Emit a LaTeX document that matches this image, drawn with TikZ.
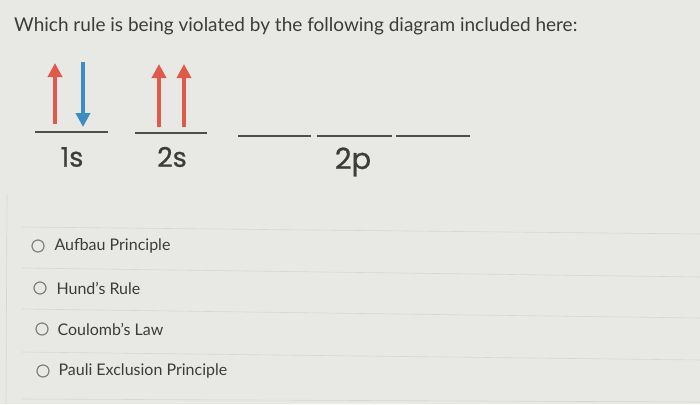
\documentclass[tikz,border=0pt]{standalone}
\usepackage{fontspec}
\setmainfont{Lato}
\newfontfamily\orbfont{Poppins}[FakeBold=0.8]
\usetikzlibrary{arrows.meta}
\definecolor{paper}{HTML}{E8E8E5}
\definecolor{rulegray}{HTML}{D6D6D2}
\definecolor{inkgray}{HTML}{3C3C3C}
\definecolor{levelgray}{HTML}{4E4E4E}
\definecolor{spinred}{HTML}{E05A4B}
\definecolor{spinblue}{HTML}{3D8CC2}
\tikzset{
  level/.style={levelgray, line width=2pt},
  spin/.style={line width=4pt, -{Triangle[width=14pt,length=14pt]}},
  orblabel/.style={inkgray, font=\orbfont\fontsize{27}{29}\selectfont},
  radio/.style={draw=gray, line width=1.2pt},
  choice/.style={inkgray, anchor=west, font=\fontsize{16}{18}\selectfont},
  divider/.style={rulegray, line width=0.6pt}
}
\begin{document}
\begin{tikzpicture}[x=1pt,y=-1pt]
        % page
        \fill[paper] (0,0) rectangle (700,404);
        \useasboundingbox (0,0) rectangle (700,404);
        \draw[divider] (7,195) -- (6,404);

        % question
        \node[inkgray, anchor=base west, inner sep=0pt, font=\fontsize{19}{22}\selectfont]
          (question) at (14,31) {Which rule is being violated by the following diagram included here:};

        % orbital levels
        \draw[level] (35,132) -- (108,132);
        \draw[level] (135,133) -- (207,133);
        \draw[level] (238,136) -- (311,136);
        \draw[level] (317,136) -- (392,136);
        \draw[level] (396,136) -- (470,136);

        % electrons
        \draw[spin, spinred] (55,124) -- (55,63);
        \draw[spin, spinblue] (83,62) -- (83,127);
        \draw[spin, spinred] (159,127) -- (159,64);
        \draw[spin, spinred] (184,127) -- (184,64);

        % labels
        \node[orblabel] (lbl1s) at (72,157) {1s};
        \node[orblabel] (lbl2s) at (172,157) {2s};
        \node[orblabel, font=\orbfont\fontsize{29}{31}\selectfont] (lbl2p) at (353,162) {2p};

        % answer rows
        \draw[divider] (22,227) -- (700,234);
        \draw[divider] (22,268) -- (700,277);
        \draw[divider] (22,309) -- (700,318);
        \draw[divider] (22,352) -- (700,360);
        \draw[divider] (22,399) -- (700,402);

        \draw[radio] (38,246) circle (6);
        \node[choice] (optA) at (51,246) {Aufbau Principle};
        \draw[radio] (40,288) circle (6);
        \node[choice] (optB) at (53,288) {Hund's Rule};
        \draw[radio] (42,329) circle (6);
        \node[choice] (optC) at (54,329) {Coulomb's Law};
        \draw[radio] (43,371) circle (6);
        \node[choice] (optD) at (55,371) {Pauli Exclusion Principle};
\end{tikzpicture}
\end{document}
